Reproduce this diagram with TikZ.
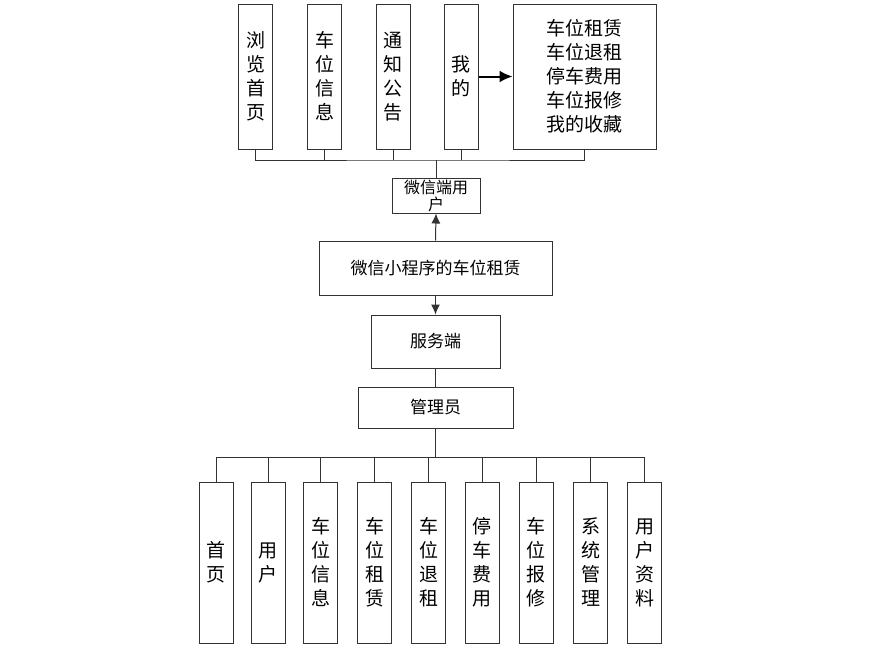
\documentclass[tikz,border=0pt]{standalone}
\usepackage{fontspec}
\setmainfont{Noto Sans CJK SC}
\usetikzlibrary{arrows.meta}
\tikzset{
  box/.style={draw=black!80, line width=1pt, inner sep=0pt, align=center},
  vbox/.style={box, minimum width=34pt, font=\fontsize{19}{24}\selectfont},
  hbox/.style={box, font=\fontsize{17}{19}\selectfont},
  link/.style={draw=black!80, line width=1pt},
  >={Latex[length=10pt,width=9pt]}
}

\begin{document}
\begin{tikzpicture}[x=1pt,y=-1pt]
\useasboundingbox (0,0) rectangle (880,653);
% client side
\node[vbox, minimum height=145pt] (browse) at (255.5,76.5) {浏\\览\\首\\页};
\node[vbox, minimum height=145pt] (info) at (324.5,76.5) {车\\位\\信\\息};
\node[vbox, minimum height=145pt] (notice) at (393,76.5) {通\\知\\公\\告};
\node[vbox, minimum height=145pt] (mine) at (461,76.5) {我\\的};
\node[box, minimum width=143pt, minimum height=145pt, font=\fontsize{19}{24}\selectfont] (mylist) at (584.5,76.5)
  {车位租赁\\车位退租\\停车费用\\车位报修\\我的收藏};
\draw[line width=2pt, ->, >={Latex[length=13pt,width=12pt]}] (mine) -- (mylist);
\coordinate (tbus) at (436,160);
\draw[link] (browse.south) |- (tbus) -| (mylist.south);
\foreach \nm in {info,notice,mine} {
 \draw[link] (\nm.south) -- (\nm.south |- tbus);
}
\node[hbox, minimum width=88pt, minimum height=35pt, font=\fontsize{16}{17}\selectfont] (wxuser) at (436,195.5) {微信端用\\户};
\draw[link] (wxuser.north) -- (tbus);
% center column
\node[hbox, minimum width=233pt, minimum height=54pt] (mini) at (435.5,268) {微信小程序的车位租赁};
\node[hbox, minimum width=129pt, minimum height=53pt] (server) at (435.5,341.5) {服务端};
\node[hbox, minimum width=155pt, minimum height=41pt] (admin) at (435.5,407.5) {管理员};
\draw[link, ->] (mini.north) -- (wxuser.south);
\draw[link, ->] (mini.south) -- (server.north);
\draw[link] (server.south) -- (admin.north);
% admin side
\coordinate (bbus) at (435.5,457);
\draw[link] (admin.south) -- (bbus);
\foreach \cx/\txt [count=\i] in {216/{首\\页}, 268/{用\\户}, 320.5/{车\\位\\信\\息}, 374.5/{车\\位\\租\\赁},
  428.5/{车\\位\\退\\租}, 482/{停\\车\\费\\用}, 536/{车\\位\\报\\修}, 590.5/{系\\统\\管\\理}, 644.5/{用\\户\\资\\料}} {
 \node[vbox, minimum height=161pt] (m\i) at (\cx,562.5) {\txt};
 \draw[link] (m\i.north) -- (m\i.north |- bbus);
}
\draw[link] (m1.north |- bbus) -- (m9.north |- bbus);
\end{tikzpicture}
\end{document}
